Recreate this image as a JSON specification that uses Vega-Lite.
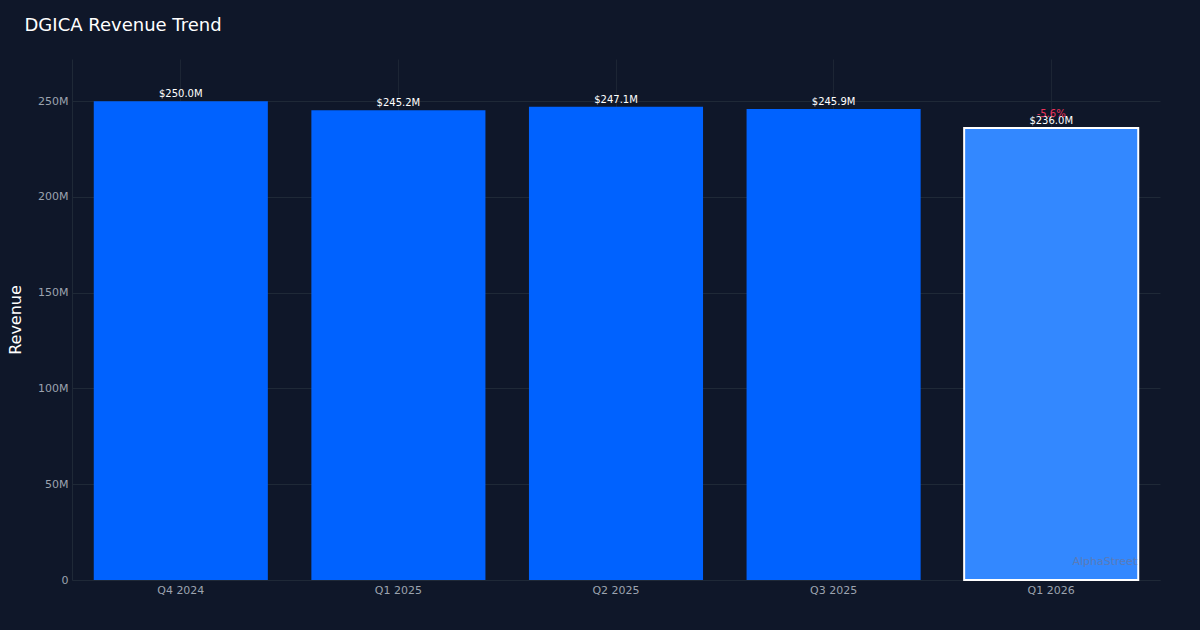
{
  "$schema": "https://vega.github.io/schema/vega-lite/v6.json",
  "autosize": {"type": "fit", "contains": "padding"},
  "width": 1200,
  "height": 630,
  "padding": {"left": 7, "top": 17, "right": 40, "bottom": 35},
  "background": "#0f1729",
  "title": {
    "text": "DGICA Revenue Trend",
    "anchor": "start",
    "frame": "bounds",
    "dx": 17,
    "fontSize": 18,
    "fontWeight": "normal",
    "font": "DejaVu Sans",
    "color": "#ffffff",
    "offset": 24
  },
  "config": {
    "view": {"stroke": null},
    "font": "DejaVu Sans"
  },
  "data": {
    "values": [
      {"quarter": "Q4 2024", "revenue": 250000000, "label": "$250.0M", "highlight": false, "change": ""},
      {"quarter": "Q1 2025", "revenue": 245200000, "label": "$245.2M", "highlight": false, "change": ""},
      {"quarter": "Q2 2025", "revenue": 247100000, "label": "$247.1M", "highlight": false, "change": ""},
      {"quarter": "Q3 2025", "revenue": 245900000, "label": "$245.9M", "highlight": false, "change": ""},
      {"quarter": "Q1 2026", "revenue": 236000000, "label": "$236.0M", "highlight": true, "change": "-5.6%"}
    ]
  },
  "encoding": {
    "x": {
      "field": "quarter",
      "type": "nominal",
      "sort": null,
      "scale": {"paddingInner": 0.2, "paddingOuter": 0.1},
      "axis": {
        "title": null,
        "labelAngle": 0,
        "labelColor": "#9ca3af",
        "labelFontSize": 11,
        "labelPadding": 4,
        "domain": true,
        "domainColor": "#1f2937",
        "ticks": false,
        "grid": true,
        "gridColor": "#1f2937",
        "gridOpacity": 0.8
      }
    },
    "y": {
      "field": "revenue",
      "type": "quantitative",
      "scale": {"domain": [0, 272000000], "nice": false},
      "axis": {
        "title": "Revenue",
        "titleColor": "#ffffff",
        "titleFontSize": 16,
        "titleFontWeight": "normal",
        "titlePadding": 14,
        "values": [0, 50000000, 100000000, 150000000, 200000000, 250000000],
        "labelExpr": "datum.value == 0 ? '0' : format(datum.value / 1000000, 'd') + 'M'",
        "labelColor": "#9ca3af",
        "labelFontSize": 11,
        "labelPadding": 4,
        "ticks": false,
        "domain": true,
        "domainColor": "#1f2937",
        "grid": true,
        "gridColor": "#1f2937"
      }
    }
  },
  "layer": [
    {
      "mark": {"type": "bar"},
      "encoding": {
        "color": {
          "field": "highlight",
          "type": "nominal",
          "scale": {"domain": [false, true], "range": ["#0062ff", "#3388ff"]},
          "legend": null
        },
        "stroke": {
          "field": "highlight",
          "type": "nominal",
          "scale": {"domain": [false, true], "range": ["#0062ff", "#ffffff"]},
          "legend": null
        },
        "strokeWidth": {
          "field": "highlight",
          "type": "nominal",
          "scale": {"domain": [false, true], "range": [0, 2]},
          "legend": null
        }
      }
    },
    {
      "mark": {"type": "text", "baseline": "bottom", "dy": -2, "fontSize": 10, "color": "#ffffff"},
      "encoding": {"text": {"field": "label"}}
    },
    {
      "mark": {"type": "text", "baseline": "bottom", "dy": -9, "fontSize": 10, "color": "#e8335a"},
      "encoding": {"text": {"field": "change"}}
    },
    {
      "data": {"values": [{"wm": "AlphaStreet", "quarter": "Q1 2026", "pos": 9500000}]},
      "mark": {"type": "text", "align": "right", "baseline": "middle", "dx": 86, "fontSize": 11, "color": "#5a7bb8"},
      "encoding": {
        "x": {"field": "quarter", "type": "nominal"},
        "y": {"field": "pos", "type": "quantitative"},
        "text": {"field": "wm"}
      }
    }
  ]
}
